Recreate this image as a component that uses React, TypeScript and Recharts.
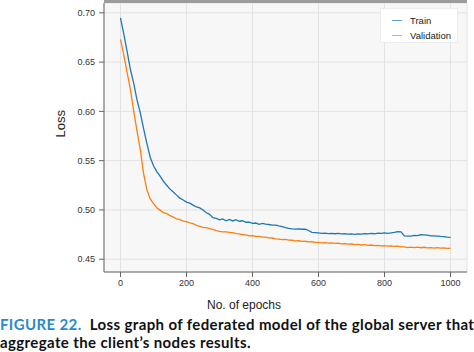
import React from 'react';
import { LineChart, Line, XAxis, YAxis, CartesianGrid, Legend } from 'recharts';

// epochs sampled every 10
const epochs = [
  0, 10, 20, 30, 40, 50, 60, 70, 80, 90,
  100, 110, 120, 130, 140, 150, 160, 170, 180, 190,
  200, 210, 220, 230, 240, 250, 260, 270, 280, 290,
  300, 310, 320, 330, 340, 350, 360, 370, 380, 390,
  400, 410, 420, 430, 440, 450, 460, 470, 480, 490,
  500, 510, 520, 530, 540, 550, 560, 570, 580, 590,
  600, 610, 620, 630, 640, 650, 660, 670, 680, 690,
  700, 710, 720, 730, 740, 750, 760, 770, 780, 790,
  800, 810, 820, 830, 840, 850, 860, 870, 880, 890,
  900, 910, 920, 930, 940, 950, 960, 970, 980, 990,
  1000,
];

const trainLoss = [
  0.6950, 0.6785, 0.6608, 0.6425, 0.6287, 0.6116, 0.5985, 0.5826, 0.5672, 0.5535,
  0.5448, 0.5389, 0.5342, 0.5291, 0.5250, 0.5211, 0.5182, 0.5150, 0.5120, 0.5101,
  0.5080, 0.5069, 0.5049, 0.5030, 0.5020, 0.4999, 0.4971, 0.4955, 0.4921, 0.4915,
  0.4900, 0.4909, 0.4890, 0.4904, 0.4888, 0.4901, 0.4885, 0.4890, 0.4875, 0.4877,
  0.4863, 0.4867, 0.4854, 0.4863, 0.4855, 0.4852, 0.4846, 0.4845, 0.4837, 0.4831,
  0.4821, 0.4812, 0.4807, 0.4806, 0.4807, 0.4804, 0.4805, 0.4791, 0.4773, 0.4770,
  0.4767, 0.4763, 0.4764, 0.4760, 0.4762, 0.4758, 0.4761, 0.4757, 0.4758, 0.4755,
  0.4757, 0.4752, 0.4756, 0.4755, 0.4759, 0.4757, 0.4761, 0.4758, 0.4764, 0.4762,
  0.4767, 0.4763, 0.4766, 0.4772, 0.4779, 0.4777, 0.4736, 0.4735, 0.4734, 0.4742,
  0.4740, 0.4748, 0.4746, 0.4744, 0.4736, 0.4737, 0.4735, 0.4731, 0.4730, 0.4723,
  0.4722,
];

const valLoss = [
  0.6730, 0.6572, 0.6396, 0.6224, 0.6002, 0.5803, 0.5612, 0.5368, 0.5203, 0.5112,
  0.5063, 0.5022, 0.4998, 0.4973, 0.4962, 0.4942, 0.4927, 0.4908, 0.4902, 0.4886,
  0.4881, 0.4868, 0.4860, 0.4843, 0.4834, 0.4823, 0.4820, 0.4810, 0.4802, 0.4790,
  0.4782, 0.4778, 0.4778, 0.4773, 0.4770, 0.4760, 0.4757, 0.4748, 0.4747, 0.4736,
  0.4738, 0.4731, 0.4732, 0.4723, 0.4724, 0.4716, 0.4715, 0.4706, 0.4704, 0.4698,
  0.4700, 0.4693, 0.4692, 0.4686, 0.4687, 0.4681, 0.4682, 0.4675, 0.4677, 0.4670,
  0.4670, 0.4666, 0.4668, 0.4663, 0.4665, 0.4660, 0.4662, 0.4656, 0.4658, 0.4653,
  0.4654, 0.4648, 0.4650, 0.4644, 0.4647, 0.4641, 0.4644, 0.4638, 0.4641, 0.4635,
  0.4638, 0.4633, 0.4636, 0.4631, 0.4633, 0.4626, 0.4624, 0.4618, 0.4623, 0.4617,
  0.4622, 0.4616, 0.4621, 0.4615, 0.4618, 0.4613, 0.4618, 0.4612, 0.4615, 0.4610,
  0.4611,
];

const xTicks = [0, 200, 400, 600, 800, 1000];
const yTicks = [0.45, 0.5, 0.55, 0.6, 0.65, 0.7];

const TRAIN = '#1f77b4';
const VAL = '#ff7f0e';

const chartData = epochs.map((e, i) => ({ epoch: e, train: trainLoss[i], validation: valLoss[i] }));

const renderLegend = () => (
  <div
    style={{
      background: '#fff',
      border: '1px solid #ececec',
      padding: '4px 0 4px 11px',
      fontFamily: 'Liberation Sans, Arial, sans-serif',
      fontSize: 9.5,
      color: '#222',
      lineHeight: '15px',
      boxSizing: 'border-box',
      width: 78,
      height: 35,
    }}
  >
    {[['Train', TRAIN], ['Validation', VAL]].map(([name, c]) => (
      <div key={name} style={{ display: 'flex', alignItems: 'center' }}>
        <span style={{ display: 'inline-block', width: 10, height: 1.5, background: c, opacity: 0.7, marginRight: 8 }} />
        {name}
      </div>
    ))}
  </div>
);

const captionStyle: React.CSSProperties = {
  position: 'absolute',
  left: 0,
  width: 474,
  fontFamily: 'Lato, sans-serif',
  fontWeight: 700,
  fontSize: 15,
  lineHeight: '17px',
  letterSpacing: 0.38,
  color: '#111',
  whiteSpace: 'nowrap',
};

export default function App() {
  const tickStyle = { fontSize: 9, fill: '#333', fontFamily: 'Liberation Sans, Arial, sans-serif' };
  return (
    <div style={{ position: 'absolute', left: 0, top: 0, width: 474, height: 352, background: '#fff', overflow: 'hidden' }}>
      <LineChart width={474} height={300} data={chartData} margin={{ top: 3, right: 7, left: 0, bottom: 0 }}>
        <CartesianGrid stroke="#e2e2e2" fill="#f7f7f7" />
        <XAxis
          dataKey="epoch"
          type="number"
          domain={[-50, 1050]}
          ticks={xTicks}
          height={28}
          tick={tickStyle}
          tickSize={5}
          tickMargin={3}
          stroke="#666"
        />
        <YAxis
          type="number"
          domain={[0.437, 0.71]}
          ticks={yTicks}
          width={104}
          tick={tickStyle}
          tickSize={5}
          tickMargin={4}
          stroke="#666"
          tickFormatter={(v: number) => v.toFixed(2)}
          label={{ value: 'Loss', angle: -90, position: 'insideLeft', offset: 60, style: { fontSize: 13, fill: '#222', fontFamily: 'Liberation Sans, Arial, sans-serif' } }}
        />
        <Legend
          layout="vertical"
          align="center"
          verticalAlign="middle"
          content={renderLegend}
          wrapperStyle={{ position: 'absolute', left: 380, top: 8, width: 78, height: 35 }}
        />
        <Line type="linear" dataKey="train" name="Train" stroke={TRAIN} strokeWidth={1.3} dot={false} isAnimationActive={false} />
        <Line type="linear" dataKey="validation" name="Validation" stroke={VAL} strokeWidth={1.3} dot={false} isAnimationActive={false} />
      </LineChart>
      <div style={{ position: 'absolute', left: 104, top: 0, width: 363, height: 3, background: '#9c9c9c' }} />
      <div
        style={{
          position: 'absolute',
          left: 0,
          width: 474,
          top: 298,
          textAlign: 'center',
          paddingLeft: 14,
          boxSizing: 'border-box',
          fontFamily: 'Liberation Sans, Arial, sans-serif',
          fontSize: 12,
          color: '#222',
        }}
      >
        No. of epochs
      </div>
      <div style={{ ...captionStyle, top: 316 }}>
        <span style={{ color: '#2a8ac9' }}>FIGURE 22.</span>&nbsp; Loss graph of federated model of the global server that
      </div>
      <div style={{ ...captionStyle, top: 334 }}>aggregate the client’s nodes results.</div>
    </div>
  );
}
